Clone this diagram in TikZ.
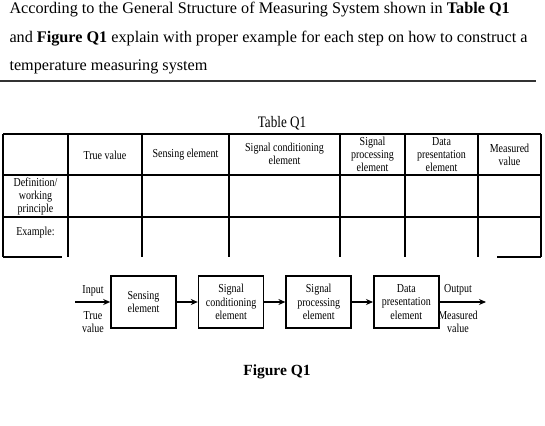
\documentclass[tikz,border=0pt]{standalone}
\usepackage{fontspec}
\setmainfont{Liberation Serif}
\newfontfamily\narrowfont[FakeStretch=0.82]{Liberation Serif}
\usetikzlibrary{arrows.meta,positioning}

\begin{document}
\begin{tikzpicture}[
    x=1pt, y=-1pt,
    block/.style={draw, rectangle, line width=1.6pt, minimum width=65pt, minimum height=52pt, inner sep=1pt, align=center, font=\narrowfont\fontsize{12.2}{13.5}\selectfont},
    cell/.style={align=center, inner sep=1pt, font=\narrowfont\fontsize{12.2}{12.8}\selectfont},
    sig/.style={align=center, inner sep=1pt, font=\narrowfont\fontsize{12.2}{12.5}\selectfont},
    grid/.style={line width=1.2pt},
    arrow/.style={-{Stealth[length=7pt,width=6pt]}, line width=1.1pt},
    node distance=21pt
]
\useasboundingbox (0,0) rectangle (545,425);

% The question
\node[anchor=west, font=\fontsize{16.2}{18}\selectfont] (line1) at (6,10) {According to the General Structure of Measuring System shown in \textbf{Table Q1}};
\node[anchor=west, font=\fontsize{16.2}{18}\selectfont] (line2) at (6,39) {and \textbf{Figure Q1} explain with proper example for each step on how to construct a};
\node[anchor=west, font=\fontsize{16.2}{18}\selectfont] (line3) at (6,67) {temperature measuring system};
\draw[line width=2pt, black!80] (0,81) -- (536,81);

% Table
\node[cell, font=\narrowfont\fontsize{16}{18}\selectfont] (title) at (282,123) {Table Q1};
\foreach \x in {3,68,142,229,340,405,478,541}
    \draw[grid] (\x,134) -- (\x,257);
\foreach \y in {134,175,217}
    \draw[grid] (3,\y) -- (541,\y);
\draw[line width=2.2pt] (3,257) -- (62,257);
\draw[line width=2.2pt] (497,257) -- (541,257);

% Header row
\node[cell] (htrue) at (105,155) {True value};
\node[cell] (hsense) at (185.5,155) {Sensing element};
\node[cell] (hcond) at (284.5,153.5) {Signal conditioning\\element};
\node[cell] (hproc) at (372.5,154.5) {Signal\\processing\\element};
\node[cell] (hdisp) at (441.5,154.5) {Data\\presentation\\element};
\node[cell] (hmeas) at (509.5,154.5) {Measured\\value};

% Row labels
\node[cell] (rdef) at (35.5,196.5) {Definition/\\working\\principle};
\node[cell] (rex) at (35.5,233) {Example:};

% Block diagram
\node[block] (sense) at (143.5,302) {Sensing\\element};
\node[block, right=of sense] (cond) {Signal\\conditioning\\element};
\node[block, right=of cond] (proc) {Signal\\processing\\element};
\node[block, right=of proc] (disp) {Data\\presentation\\element};
\coordinate (in) at (75,302);
\coordinate (out) at (486,302);

\draw[arrow] (in) -- (sense);
\draw[arrow] (sense) -- (cond);
\draw[arrow] (cond) -- (proc);
\draw[arrow] (proc) -- (disp);
\draw[arrow] (disp) -- (out);

\node[sig] (inlbl) at (93,291) {Input};
\node[sig] (truelbl) at (93,322) {True\\value};
\node[sig] (outlbl) at (458,290) {Output};
\node[sig] (measlbl) at (458,322) {Measured\\value};

\node[font=\bfseries\fontsize{15.5}{18}\selectfont] (caption) at (277,372) {Figure Q1};

\end{tikzpicture}
\end{document}
